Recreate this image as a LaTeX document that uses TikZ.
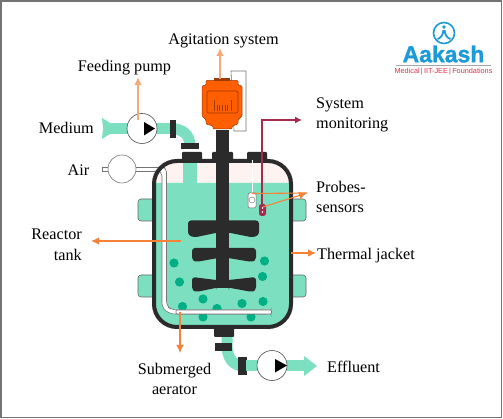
\documentclass[tikz,border=0pt]{standalone}
\usepackage{fontspec}
\setmainfont{Liberation Serif}
\newfontfamily\logofont[BoldFeatures={FakeBold=1.3}]{Liberation Sans}
\usetikzlibrary{arrows.meta}
\definecolor{liq}{HTML}{7CE0C0}
\definecolor{dark}{HTML}{2B2B2B}
\definecolor{bub}{HTML}{00B084}
\definecolor{pinkt}{HTML}{FFF3F1}
\definecolor{org}{HTML}{F58238}
\definecolor{orgl}{HTML}{F9A87A}
\definecolor{mot}{HTML}{FF5F00}
\definecolor{motd}{HTML}{9C3C08}
\definecolor{mon}{HTML}{A62B4D}
\definecolor{logob}{HTML}{1B9AD6}
\definecolor{logor}{HTML}{D8324A}
\tikzset{
 lab/.style={font=\fontsize{16.2}{20.5}\selectfont,align=center,inner sep=0pt,text=black},
 callout/.style={org,line width=1.1pt,-{Latex[length=8pt,width=7.5pt]}},
 pumpc/.style={circle,draw=black!70,fill=white,line width=.6pt,minimum size=30pt,inner sep=0pt},
 airc/.style={circle,draw=black!55,fill=white,line width=.6pt,minimum size=28pt,inner sep=0pt},
 jack/.style={draw=black!60,fill=liq,line width=.6pt,rounded corners=3pt},
 flange/.style={fill=dark,rounded corners=1pt},
 bubble/.style={fill=bub},
 pipeg/.style={liq,line width=11pt},
 whitep/.style={draw=black!55,line width=.6pt,fill=white},
}
\begin{document}
\begin{tikzpicture}[x=1pt,y=-1pt]
\useasboundingbox (0,0) rectangle (503,419);
\fill[white] (0,0) rectangle (503,419);
\draw[black!55,line width=1.2pt] (1,1) rectangle (501.5,417.5);
% jacket tabs
\foreach \y in {199,275}{
 \draw[jack] (156,\y) -- (138,\y) -- (138,\y+22) -- (156,\y+22);
 \draw[jack] (290,\y) -- (306,\y) -- (306,\y+22) -- (290,\y+22);
}
% tank contents
\fill[pinkt,rounded corners=22pt] (152,159) rectangle (293,210);
\fill[liq] (154,183) -- (291,183) -- (291,305) arc (0:90:22) -- (176,327) arc (90:180:22) -- cycle;
% feed pipes
\draw[pipeg] (170,128.5) .. controls (183,128.5) and (190,135) .. (190,146);
\draw[pipeg,line width=14pt] (190,158) -- (190,184);
\draw[pipeg] (108,128.5) -- (130,128.5);
\fill[liq] (102,118) -- (110,123) -- (110,134) -- (102,139) -- (103,128.5) -- cycle;
\draw[pipeg] (150,128.5) -- (172,128.5);
\node[pumpc] (feedpump) at (142,128.5) {};
\fill[black] (144,122) -- (155,128.5) -- (144,135.5) -- cycle;
\node[fill=dark,minimum width=6pt,minimum height=18pt,inner sep=0pt] (feedflange) at (173,129) {};
\node[fill=dark,minimum width=18pt,minimum height=6pt,inner sep=0pt] (portflange) at (190,146) {};
% bottom pipe
\draw[pipeg] (227,333) -- (227,345) .. controls (227,358) and (233,366) .. (244,366);
\draw[pipeg] (285,365.5) -- (305,365.5);
\fill[liq] (304,356) -- (317,366) -- (304,376) -- cycle;
\node[fill=dark,minimum width=9pt,minimum height=18pt,inner sep=0pt] (outflange) at (242.5,366) {};
\node[fill=dark,minimum width=17pt,minimum height=8pt,inner sep=0pt] (botflange) at (223.5,347) {};
\draw[pipeg] (246,365.5) -- (258,365.5);
\node[pumpc] (outpump) at (272,365.5) {};
\fill[black] (275,359) -- (287,365.5) -- (275,372.5) -- cycle;
\fill[flange] (214,327) rectangle (234,337);
% air pipe
\draw[whitep] (102,167) rectangle (164,171.5);
\draw[whitep,rounded corners=5pt] (160,167) -- (166.5,167) -- (166.5,306) -- (172,310) -- (271,310) -- (271,314) -- (170,314) -- (162,308) -- (162,171) -- (160,171);
\node[airc] (airpump) at (122,169) {};
% bubbles
\foreach \p in {(174,263),(179.5,282),(182.5,306.5),(203,299),(217,308.5),(242,303.5),(263,301.5),(262.5,276.5),(264.5,261),(203,317),(251,317)}
 \fill[bubble] \p circle (4.6);
% redraw aerator over bubbles
\fill[white,draw=black!55,line width=.6pt,rounded corners=1pt] (176,310) rectangle (271.5,314);
% tank wall
\draw[dark,line width=4pt,rounded corners=23pt] (154,161) rectangle (291,327);
% top ports
\fill[flange] (182,152) rectangle (202,160);
\fill[flange] (212,152) rectangle (233,160);
\fill[flange] (247,152) rectangle (267,160);
% probes
\draw[white,line width=1pt] (252,160) -- (252,195);
\draw[draw=black!60,fill=white,line width=.5pt,rounded corners=1.5pt] (248,193) rectangle (256,208);
\draw[black!60,fill=white,line width=.4pt] (252,200) circle (3);
\fill[mon,rounded corners=2.5pt] (259,204) rectangle (266,216);
\fill[white] (262.5,208) circle (.9) (262.5,212) circle (.9);
% shaft
\fill[dark] (216,130) rectangle (229,288);
\fill[dark] (216,286) -- (229,286) -- (229,290) arc (0:-180:6.5) -- cycle;
% impellers
\fill[dark,rounded corners=3pt] (188,220.5) -- (259,220.5) -- (259,235) -- (253,237.5) -- (228,232.5) -- (218,232.5) -- (194,237.5) -- (188,235) -- cycle;
\fill[dark,rounded corners=3pt] (192,248) -- (256,248) -- (256,260) -- (252,262) -- (228,258) -- (218,258) -- (196,262) -- (192,260) -- cycle;
\fill[dark,rounded corners=3pt] (192,277) -- (216,280) -- (229,280) -- (256,277) -- (256,290) -- (252,292) -- (228,287.5) -- (218,287.5) -- (196,292) -- (192,290) -- cycle;
% motor
\draw[black!55,line width=.6pt,fill=white] (231,71) -- (246,71) -- (246,131) -- (234,131) -- cycle;
\draw[motd,line width=.5pt,fill=mot,rounded corners=1pt] (206,80.5) -- (238,80.5) -- (238,85) -- (242,86) -- (242,116) -- (238,120) -- (238,124) -- (232,126) -- (232,129) -- (213,129) -- (213,126) -- (206,124) -- (206,120) -- (202,116) -- (202,86) -- (206,85) -- cycle;
\fill[motd] (214,78.5) rectangle (230,81);
\draw[motd,line width=.7pt,rounded corners=2pt] (207,91) rectangle (238,113);
\foreach \x/\t in {214/100,222/105,231/100}
 \draw[motd,line width=.8pt] (\x,\t) -- (\x,111);
\foreach \x in {217,219,225,227}
 \draw[motd,line width=.4pt] (\x,105) -- (\x,111);
% named free ends
\coordinate (monitorEnd) at (302,120);
\coordinate (monitorStart) at (262,204);
\coordinate (probeA) at (252,193.5);
\coordinate (probeB) at (263,207);
\coordinate (probeHead) at (307,193);
\coordinate (tankStart) at (181,241);
\coordinate (tankEnd) at (91,241);
\coordinate (jacketStart) at (291,253);
\coordinate (jacketEnd) at (316,253);
\coordinate (aerStart) at (180,312);
\coordinate (aerEnd) at (180,353);
\coordinate (feedEnd) at (138,77);
\coordinate (feedStart) at (138,120);
\coordinate (agiEnd) at (220,48);
\coordinate (agiStart) at (220,79);
% labels
\node[lab] (agi) at (223.5,41) {Agitation system};
\node[lab] (feed) at (124.5,68) {Feeding pump};
\node[lab,anchor=east] (medium) at (94,128) {Medium};
\node[lab,anchor=east] (air) at (89.5,170) {Air};
\node[lab,anchor=west,align=left] (sysm) at (316,115) {System\\monitoring};
\node[lab,anchor=west,align=left] (probes) at (316,197) {Probes-\\sensors};
\node[lab,anchor=west] (therm) at (317,256) {Thermal jacket};
\node[lab,align=right,anchor=east] (tank) at (82,245) {Reactor\\tank};
\node[lab] (aerator) at (174.5,379) {Submerged\\aerator};
\node[lab,anchor=west] (eff) at (327,367) {Effluent};
% connectors
\draw[orgl,line width=1.3pt,-{Latex[length=8pt,width=7.5pt]}] (feedStart) -- (feedEnd);
\draw[orgl,line width=1.3pt,-{Latex[length=8pt,width=7.5pt]}] (agiStart) -- (agiEnd);
\draw[mon,line width=1.1pt,-{Latex[length=7pt,width=7pt]}] (monitorStart) -- (262,120) -- (monitorEnd);
\draw[org,line width=1.1pt] (probeA) -- (probeHead);
\draw[callout] (probeB) -- (probeHead);
\draw[callout] (tankStart) -- (tankEnd);
\draw[callout] (jacketStart) -- (jacketEnd);
\draw[callout] (aerStart) -- (aerEnd);
% logo
\draw[logob,line width=1.6pt] (444,33) circle (10.5);
\fill[logob] (444,27) circle (1.8);
\draw[logob,line width=1.8pt] (443.5,30) .. controls (443,35) and (441,38) .. (437.5,39);
\draw[logob,line width=1.8pt] (444.5,30) .. controls (445,35) and (447,38) .. (450.5,39);
\node[inner sep=0pt,text=logob,font=\logofont\bfseries\fontsize{23}{23}\selectfont] (aakash) at (443.5,54) {Aakash};
\draw[black!35,line width=.6pt] (396,65.5) -- (491,65.5);
\node[inner sep=0pt,text=logor,font=\logofont\fontsize{7.3}{10}\selectfont] (tagline) at (443.5,71.5) {Medical\,|\,IIT-JEE\,|\,Foundations};
\end{tikzpicture}
\end{document}
